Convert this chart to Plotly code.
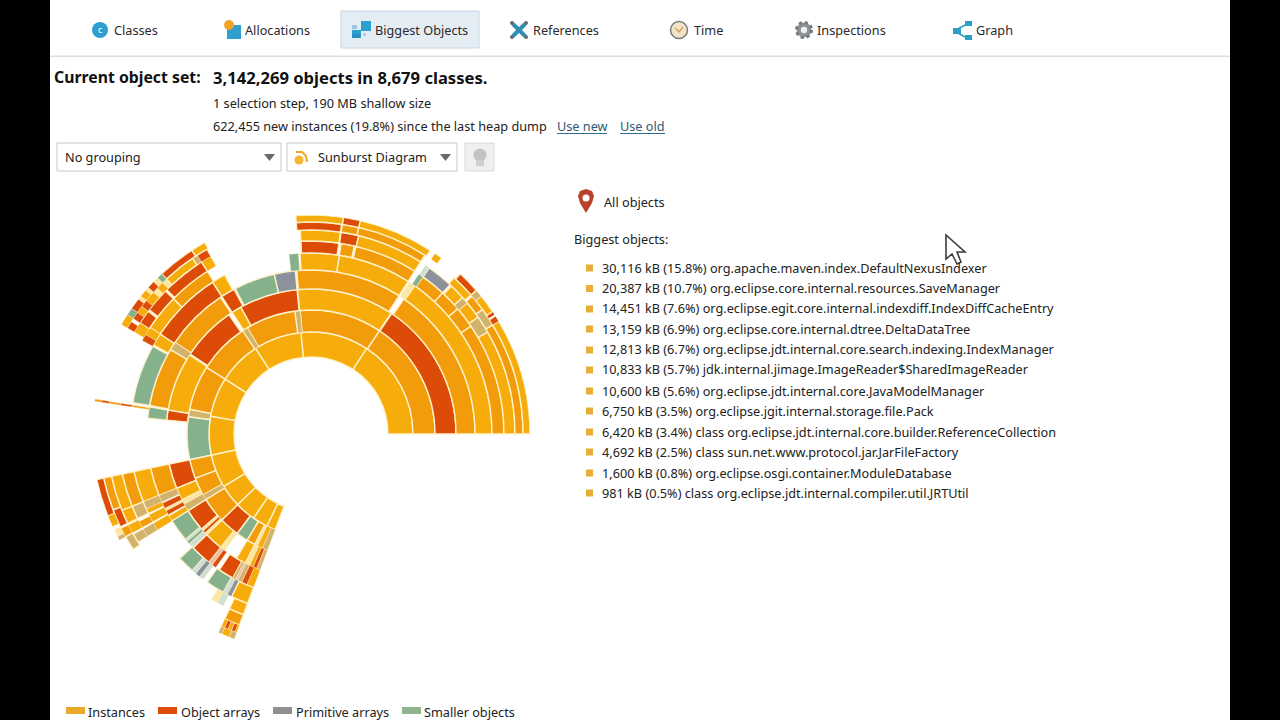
import plotly.graph_objects as go

W, H = 1280, 720
FONT = "Noto Sans"

# readings
tabs = ["Classes", "Allocations", "Biggest Objects", "References", "Time", "Inspections", "Graph"]
legend_names = ["Instances", "Object arrays", "Primitive arrays", "Smaller objects"]

biggest_sizes = ["30,116", "20,387", "14,451", "13,159", "12,813", "10,833", "10,600", "6,750", "6,420", "4,692", "1,600", "981"]
biggest_shares = [15.8, 10.7, 7.6, 6.9, 6.7, 5.7, 5.6, 3.5, 3.4, 2.5, 0.8, 0.5]
biggest_names = [
    "org.apache.maven.index.DefaultNexusIndexer",
    "org.eclipse.core.internal.resources.SaveManager",
    "org.eclipse.egit.core.internal.indexdiff.IndexDiffCacheEntry",
    "org.eclipse.core.internal.dtree.DeltaDataTree",
    "org.eclipse.jdt.internal.core.search.indexing.IndexManager",
    "jdk.internal.jimage.ImageReader$SharedImageReader",
    "org.eclipse.jdt.internal.core.JavaModelManager",
    "org.eclipse.jgit.internal.storage.file.Pack",
    "class org.eclipse.jdt.internal.core.builder.ReferenceCollection",
    "class sun.net.www.protocol.jar.JarFileFactory",
    "org.eclipse.osgi.container.ModuleDatabase",
    "class org.eclipse.jdt.internal.compiler.util.JRTUtil",
]

# ring limits of the sunburst
ring_limits = [77, 102, 124, 145, 164, 181, 193, 204, 212, 219]

# (from degree, to degree, kind) per ring
ring0 = [(0, 57, "I"), (57, 95.7, "I"), (95.7, 123, "I"), (123, 147.5, "I"), (147.5, 170, "I"), (170, 192, "I"),
         (192, 211, "I"), (211, 224, "I"), (224, 235.7, "I"), (235.7, 244.5, "I"), (244.5, 249.5, "I")]
ring1 = [(0, 56.5, "J"), (56.5, 95, "J"), (95, 97.5, "T"), (97.5, 121, "J"), (121, 123.5, "T"), (123.5, 147.5, "J"),
         (147.5, 168.5, "J"), (168.5, 172, "T"), (172, 192, "S"), (192, 201, "J"), (201, 209.5, "J"),
         (209.5, 212, "T"), (212, 224, "J"), (224, 233.5, "R"), (233.5, 239, "S"), (239, 243, "J"),
         (243, 244.5, "Y"), (244.5, 247, "I"), (247, 249.5, "T")]
ring2 = [(0, 56.2, "R"), (56.5, 95.3, "I"), (95.5, 119, "R"), (119, 123, "I"), (124.5, 146.5, "R"), (147, 170.5, "I"),
         (170.5, 174.5, "R"), (192, 202, "R"), (202, 207, "I"), (207, 209, "Y"), (209, 212, "T"), (212, 221, "R"),
         (221, 222, "Y"), (222, 223, "R"), (223, 224, "Y"), (224, 231.5, "I"), (231.5, 233.5, "Y"), (239, 243, "I"),
         (243, 245, "Y"), (245, 246.5, "I"), (246.5, 248, "R"), (248, 249.5, "T")]
ring3 = [(0, 55.5, "J"), (57.5, 95, "J"), (95.5, 103, "P"), (103, 117.5, "S"), (118, 123, "R"), (123.5, 146, "J"),
         (146, 149, "T"), (149, 170, "J"), (170.5, 174.5, "S"), (192, 202, "J"), (202, 204.5, "T"), (205, 207, "R"),
         (207, 208, "Y"), (208, 209.5, "R"), (210, 212, "I"), (212, 220, "S"), (220, 221, "W"), (221, 222, "S"),
         (222, 224, "W"), (224, 231.5, "R"), (231.5, 233, "Q"), (233, 234.5, "R"), (236, 241.5, "R"), (241.5, 242.5, "T"),
         (242.5, 243.5, "Q"), (243.5, 245, "T"), (245, 247, "R"), (247, 249.5, "I")]
ring4 = [(0, 55, "I"), (55, 57, "Y"), (57.5, 81, "I"), (81, 93.5, "I"), (94, 97, "S"), (118.5, 123, "I"), (123, 146.5, "R"),
         (146.5, 150.5, "I"), (151, 170, "S"), (170.8, 171.4, "J"), (192, 202, "I"), (202, 204.5, "T"), (204.5, 206, "I"),
         (206.5, 209, "I"), (209.5, 212, "I"), (223.5, 229, "S"), (229, 230.5, "W"), (230.5, 232, "P"), (232, 233.5, "W"),
         (235, 241, "S"), (241, 242.5, "W"), (242.5, 244, "P"), (244, 249.5, "I")]
ring5 = [(0, 34, "J"), (34, 40.5, "J"), (40.5, 47, "J"), (47, 54.5, "J"), (54.5, 56, "S"), (57.5, 76.5, "J"), (77, 81, "J"),
         (81.7, 93, "R"), (122.5, 135.5, "J"), (135.5, 146.5, "I"), (146.5, 149, "I"), (149, 151, "R"), (170.8, 171.4, "R"),
         (192, 202, "J"), (202, 206, "T"), (207, 209, "J"), (209.5, 212, "T"), (239, 241, "Y"), (241, 243, "W"),
         (245, 249.5, "I")]
ring6 = [(0, 30, "I"), (30, 35, "T"), (35, 40, "I"), (40, 42, "T"), (42, 46.5, "I"), (47, 54.5, "P"), (54.5, 55.8, "W"),
         (57.5, 76.5, "I"), (76.5, 81.5, "R"), (81.7, 93, "I"), (119.5, 122.5, "I"), (122.5, 135, "R"), (135.5, 142.5, "R"),
         (143, 147, "R"), (147, 150, "I"), (170.8, 171.4, "J"), (192, 202, "I"), (202, 206, "I"), (206.5, 209, "I"),
         (209.5, 212, "T"), (245, 249.5, "J")]
ring7 = [(0, 31, "J"), (31, 36, "T"), (36, 40.5, "J"), (41, 47.5, "I"), (57.5, 77, "J"), (77, 81.5, "J"), (81.7, 94, "R"),
         (119.5, 122.5, "R"), (122.5, 124, "T"), (124, 133, "I"), (133, 134.5, "Y"), (134.5, 136.5, "I"), (136.5, 138, "Y"),
         (138, 141, "I"), (141, 143, "R"), (143, 145, "I"), (145, 147, "R"), (148, 150, "R"), (170.8, 171.4, "R"),
         (192, 201, "J"), (201, 206, "R"), (206.5, 209, "J"), (209, 213, "T"), (245, 246, "I"), (246, 247, "R"),
         (247, 248, "I"), (248, 249, "R"), (249, 249.5, "I")]
ring8 = [(0, 31, "I"), (31, 32.5, "R"), (33, 34, "R"), (34, 39, "I"), (39, 41, "T"), (41, 47, "R"), (53.5, 55.5, "I"),
         (57, 77, "I"), (77, 81.5, "R"), (81.5, 94, "I"), (119, 123, "I"), (123, 133, "R"), (133, 134.5, "S"),
         (134.5, 136, "Y"), (136, 138, "R"), (138, 139, "Y"), (139, 141, "I"), (141, 142, "Y"), (142, 145, "R"),
         (145, 147, "S"), (147, 150, "I"), (170.8, 171.4, "J"), (192, 202, "R"), (202, 205, "I"), (206, 208, "Y"),
         (208, 209, "T"), (245, 246, "T"), (246, 248, "I"), (248, 249.5, "T")]
rings = [ring0, ring1, ring2, ring3, ring4, ring5, ring6, ring7, ring8]

kind_colors = {
    "I": "#f6ad0b", "J": "#f29c0c", "R": "#dc4c08", "P": "#8b929b", "S": "#85b18c",
    "T": "#d3b36c", "Y": "#fbe6a2", "W": "#cfe0d2", "Q": "#f2bfa6",
}


def px(x):
    return x / W


def py(y):
    return 1 - y / H


def rect(x0, y0, x1, y1, fill, line=None, lw=1):
    return dict(type="rect", xref="paper", yref="paper", x0=px(x0), x1=px(x1), y0=py(y0), y1=py(y1),
                fillcolor=fill, line=dict(color=line or fill, width=lw if line else 0))


def circle(x, y, r, fill, line=None, lw=1, dash="solid"):
    return dict(type="circle", xref="paper", yref="paper", x0=px(x - r), x1=px(x + r), y0=py(y + r), y1=py(y - r),
                fillcolor=fill, line=dict(color=line or fill, width=lw if line else 0, dash=dash))


def path(points, fill=None, line=None, lw=1, close=True):
    d = "M " + " L ".join(f"{px(x):.5f},{py(y):.5f}" for x, y in points) + (" Z" if close else "")
    return dict(type="path", xref="paper", yref="paper", path=d, fillcolor=fill or "rgba(0,0,0,0)",
                line=dict(color=line or "rgba(0,0,0,0)", width=lw))


def label(x, y, text, size=12.7, color="#1d1d1d", bold=False, anchor="left"):
    return dict(xref="paper", yref="paper", x=px(x - 1), y=py(y - 0.5), text=f"<b>{text}</b>" if bold else text, showarrow=False,
                xanchor=anchor, yanchor="middle", align="left", borderpad=0,
                font=dict(family=FONT, size=size, color=color))


theta, width, base, radial, colors, edge = [], [], [], [], [], []
for i, ring in enumerate(rings):
    for a, b, kind in ring:
        theta.append((a + b) / 2)
        width.append(b - a)
        base.append(ring_limits[i])
        radial.append(ring_limits[i + 1] - ring_limits[i])
        colors.append(kind_colors[kind])
        edge.append(1.4 if b - a > 3 else 0.4)

fig = go.Figure(go.Barpolar(
    theta=theta, width=width, base=base, r=radial,
    marker=dict(color=colors, line=dict(color="#fff1c9", width=edge)),
    hoverinfo="skip",
))

shapes = []
annotations = []

# top tab strip
shapes.append(rect(341, 11, 479, 48, "#e4edf4", "#c6d6e4"))
shapes.append(rect(50, 55.5, 1230, 57, "#dddddd"))
tab_x = [114, 245, 375, 533, 694, 817, 976]
for name, x in zip(tabs, tab_x):
    annotations.append(label(x, 31, name, color="#2a2a2a"))

# tab icons
shapes.append(circle(100, 30, 8, "#2f9fd0"))
annotations.append(label(101, 30, "c", size=9, color="white", anchor="center"))
shapes.append(rect(227, 25, 241, 39, "#2f9fd0"))
shapes.append(circle(229, 25, 5, "#f0a528"))
for x0, y0, x1, y1, c in [(352, 30, 361, 38, "#2f9fd0"), (361, 21, 371, 31, "#2f9fd0"), (352, 25, 357, 29, "#9bc9e2"),
                          (363, 33, 366, 36, "#a9cfe3"), (352, 34, 360, 38, "#2a8fc0")]:
    shapes.append(rect(x0, y0, x1, y1, c))
shapes.append(path([(513, 24), (525, 36)], line="#2f8fb5", lw=4, close=False))
shapes.append(path([(525, 24), (513, 36)], line="#2f8fb5", lw=4, close=False))
for x, y in [(512, 23), (526, 23), (512, 37), (526, 37)]:
    shapes.append(circle(x, y, 2, "#5f6a6e"))
shapes.append(circle(679, 30, 8.5, "#f3e3c8", "#767c7c", 1.5))
shapes.append(path([(675, 28), (679, 32), (683, 27)], line="#d89a50", lw=1.3, close=False))
shapes.append(circle(804, 30, 7.5, "#8b9396", "#6d767a", 3, "dot"))
shapes.append(circle(804, 30, 6, "#8b9396"))
shapes.append(circle(804, 30, 3.2, "#eeeeee"))
shapes.append(path([(954, 31), (967, 24)], line="#2d9fc4", lw=1.5, close=False))
shapes.append(path([(954, 31), (967, 38)], line="#2d9fc4", lw=1.5, close=False))
shapes.append(rect(953, 28, 961, 34, "#2d9fc4"))
shapes.append(rect(965, 21, 972, 26, "#2d9fc4"))
shapes.append(rect(965, 35, 972, 40, "#2d9fc4"))

# header block
annotations.append(label(54, 78, "Current object set:", size=15.8, color="#111111", bold=True))
annotations.append(label(213, 78, "3,142,269 objects in 8,679 classes.", size=16.6, color="#111111", bold=True))
annotations.append(label(213, 103.5, "1 selection step, 190 MB shallow size", color="#222222"))
annotations.append(label(213, 126.5, "622,455 new instances (19.8%) since the last heap dump", color="#222222"))
annotations.append(label(557, 126.5, "Use new", color="#2f5a78"))
annotations.append(label(620, 126.5, "Use old", color="#2f5a78"))
shapes.append(rect(557, 133, 607, 134, "#2f6a8c"))
shapes.append(rect(620, 133, 665, 134, "#2f6a8c"))

# combo boxes
shapes.append(rect(57, 143, 281, 171, "#ffffff", "#c9c9c9"))
shapes.append(rect(287, 143, 457, 171, "#ffffff", "#c9c9c9"))
shapes.append(rect(465, 143, 494, 171, "#efefef", "#d8d8d8"))
annotations.append(label(65, 157.5, "No grouping", color="#222222"))
annotations.append(label(318, 157.5, "Sunburst Diagram", color="#222222"))
shapes.append(path([(264, 154), (275, 154), (269.5, 161)], fill="#6a6a6a"))
shapes.append(path([(440, 154), (451, 154), (445.5, 161)], fill="#6a6a6a"))
shapes.append(circle(299, 160, 4.5, "#f2b632"))
shapes.append(path([(296, 152), (302, 152), (306, 156), (307, 162)], line="#f0a528", lw=2, close=False))
shapes.append(circle(480, 155, 6.5, "#c3c3c3"))
shapes.append(rect(476, 160, 484, 166, "#cfcfcf"))

# right hand list
shapes.append(path([(578, 196), (580, 191), (586, 189), (592, 191), (594, 196), (592, 203), (586, 213), (580, 203)], fill="#b8432a"))
shapes.append(circle(586, 198, 3.5, "#ffffff"))
annotations.append(label(604, 202, "All objects", color="#222222"))
annotations.append(label(574, 239, "Biggest objects:", color="#222222"))
list_y = [268, 288.5, 309, 329, 350, 370, 391, 411, 432, 452, 473, 493]
for y, size, share, name in zip(list_y, biggest_sizes, biggest_shares, biggest_names):
    shapes.append(rect(586, y - 3.5, 593, y + 3.5, "#e8ae3a"))
    annotations.append(label(602, y, f"{size} kB ({share}%) {name}", color="#222222"))

# legend row
legend_x = [66, 158, 273, 402]
legend_text_x = [88, 181, 296, 424]
for x, tx, name, kind in zip(legend_x, legend_text_x, legend_names, ["I", "R", "P", "S"]):
    shapes.append(rect(x, 707, x + 19, 714, {"I": "#eaa92a", "R": "#dc4c08", "P": "#8f8f8f", "S": "#8fb48e"}[kind]))
    annotations.append(label(tx, 712, name, color="#222222"))

# mouse pointer
shapes.append(path([(946, 235), (946, 259), (952, 254), (957, 264), (961, 262), (957, 252), (965, 252)],
                   fill="#ffffff", line="#3d3d3d", lw=1.6))

# video side bars
shapes.append(rect(0, 0, 50, H, "#000000"))
shapes.append(rect(1230, 0, W, H, "#000000"))

fig.update_layout(
    width=W, height=H, margin=dict(l=0, r=0, t=0, b=0), autosize=False,
    paper_bgcolor="white", plot_bgcolor="white", showlegend=False,
    polar=dict(
        domain=dict(x=[px(92), px(530)], y=[py(653), py(215)]),
        bgcolor="rgba(0,0,0,0)", barmode="overlay", bargap=0,
        angularaxis=dict(visible=False, rotation=0, direction="counterclockwise"),
        radialaxis=dict(visible=False, range=[0, 219]),
    ),
    shapes=shapes, annotations=annotations,
)

# the page keeps a default body margin otherwise
fig.write_html("out.html", config={"displayModeBar": False}, post_script="document.body.style.margin='0';")
